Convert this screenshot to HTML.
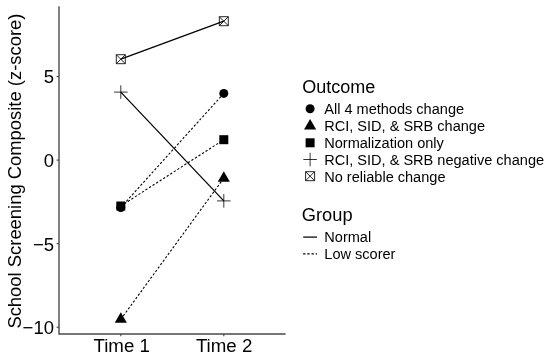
<!DOCTYPE html>
<html><head><meta charset="utf-8"><title>Plot</title>
<style>html,body{margin:0;padding:0;background:#fff}svg{display:block}text{font-family:"Liberation Sans",Arial,sans-serif;fill:#000}</style>
</head><body>
<svg width="550" height="362" viewBox="0 0 550 362">
<rect width="550" height="362" fill="#fff"/>
<line x1="120.8" y1="59.2" x2="223.8" y2="21.2" stroke="#000" stroke-width="1.25"/>
<line x1="120.8" y1="92.1" x2="223.8" y2="200.9" stroke="#000" stroke-width="1.25"/>
<line x1="120.8" y1="207.5" x2="223.8" y2="93.4" stroke="#000" stroke-width="1.1" stroke-dasharray="2.3 1.9"/>
<line x1="120.8" y1="206.0" x2="223.8" y2="139.7" stroke="#000" stroke-width="1.1" stroke-dasharray="2.3 1.9"/>
<line x1="120.8" y1="319.3" x2="223.8" y2="178.2" stroke="#000" stroke-width="1.1" stroke-dasharray="2.3 1.9"/>
<path d="M116.3,54.7h9.0v9.0h-9.0zM116.3,54.7l9.0,9.0M116.3,63.7l9.0,-9.0" stroke="#000" stroke-width="0.85" fill="none"/>
<path d="M219.3,16.7h9.0v9.0h-9.0zM219.3,16.7l9.0,9.0M219.3,25.7l9.0,-9.0" stroke="#000" stroke-width="0.85" fill="none"/>
<path d="M114.05,92.1H127.55M120.8,85.35V98.85" stroke="#000" stroke-width="0.8" fill="none"/>
<path d="M217.05,200.9H230.55M223.8,194.15V207.65" stroke="#000" stroke-width="0.8" fill="none"/>
<circle cx="120.8" cy="207.5" r="4.5" fill="#000"/>
<circle cx="223.8" cy="93.4" r="4.5" fill="#000"/>
<rect x="116.3" y="201.5" width="9.0" height="9.0" fill="#000"/>
<rect x="219.3" y="135.2" width="9.0" height="9.0" fill="#000"/>
<polygon points="120.8,312.30205 126.86059999999999,322.7992 114.7394,322.7992" fill="#000"/>
<polygon points="223.8,171.20204999999999 229.8606,181.6992 217.73940000000002,181.6992" fill="#000"/>
<path d="M59.0,6.3V333.95H285.6" stroke="#4a4a4a" stroke-width="1.4" fill="none"/>
<line x1="56.6" x2="59.0" y1="76.54999999999998" y2="76.54999999999998" stroke="#444" stroke-width="1.1"/>
<line x1="56.6" x2="59.0" y1="160.1" y2="160.1" stroke="#444" stroke-width="1.1"/>
<line x1="56.6" x2="59.0" y1="243.65" y2="243.65" stroke="#444" stroke-width="1.1"/>
<line x1="56.6" x2="59.0" y1="327.20000000000005" y2="327.20000000000005" stroke="#444" stroke-width="1.1"/>
<line x1="120.8" x2="120.8" y1="333.9" y2="336.3" stroke="#444" stroke-width="1.1"/>
<line x1="223.8" x2="223.8" y1="333.9" y2="336.3" stroke="#444" stroke-width="1.1"/>
<text x="54.0" y="83.44999999999999" text-anchor="end" font-size="18.5">5</text>
<text x="54.0" y="167.0" text-anchor="end" font-size="18.5">0</text>
<text x="54.0" y="250.55" text-anchor="end" font-size="18.5">−5</text>
<text x="54.0" y="334.1" text-anchor="end" font-size="18.5">−10</text>
<text x="121.7" y="352.45" text-anchor="middle" font-size="18.7">Time 1</text>
<text x="224.10000000000002" y="352.45" text-anchor="middle" font-size="18.7">Time 2</text>
<text transform="translate(20.9,171.1) rotate(-90)" text-anchor="middle" font-size="19" textLength="315" lengthAdjust="spacingAndGlyphs">School Screening Composite (z-score)</text>
<text x="302.2" y="93.2" font-size="18">Outcome</text>
<circle cx="310.1" cy="108.8" r="4.5" fill="#000"/>
<text transform="translate(324.2,113.6) scale(1.04,1)" font-size="14.0">All 4 methods change</text>
<polygon points="310.1,118.90204999999999 316.16060000000004,129.39919999999998 304.0394,129.39919999999998" fill="#000"/>
<text transform="translate(324.2,130.6) scale(1.04,1)" font-size="14.0">RCI, SID, &amp; SRB change</text>
<rect x="305.6" y="138.29999999999998" width="9.0" height="9.0" fill="#000"/>
<text transform="translate(324.2,147.6) scale(1.04,1)" font-size="14.0">Normalization only</text>
<path d="M303.35,159.5H316.85M310.1,152.75V166.25" stroke="#000" stroke-width="0.8" fill="none"/>
<text transform="translate(324.2,164.6) scale(1.04,1)" font-size="14.0">RCI, SID, &amp; SRB negative change</text>
<path d="M305.6,171.7h9.0v9.0h-9.0zM305.6,171.7l9.0,9.0M305.6,180.7l9.0,-9.0" stroke="#000" stroke-width="0.85" fill="none"/>
<text transform="translate(324.2,181.6) scale(1.04,1)" font-size="14.0">No reliable change</text>
<text transform="translate(301.8,221) scale(1.015,1)" font-size="18">Group</text>
<line x1="303.2" x2="317" y1="237.1" y2="237.1" stroke="#000" stroke-width="1.25"/>
<text transform="translate(324.3,242.1) scale(1.04,1)" font-size="14.0">Normal</text>
<line x1="303.1" x2="317" y1="253.9" y2="253.9" stroke="#000" stroke-width="1.25" stroke-dasharray="2.3 1.9"/>
<text transform="translate(324.3,258.7) scale(1.04,1)" font-size="14.0">Low scorer</text>
</svg>
</body></html>
